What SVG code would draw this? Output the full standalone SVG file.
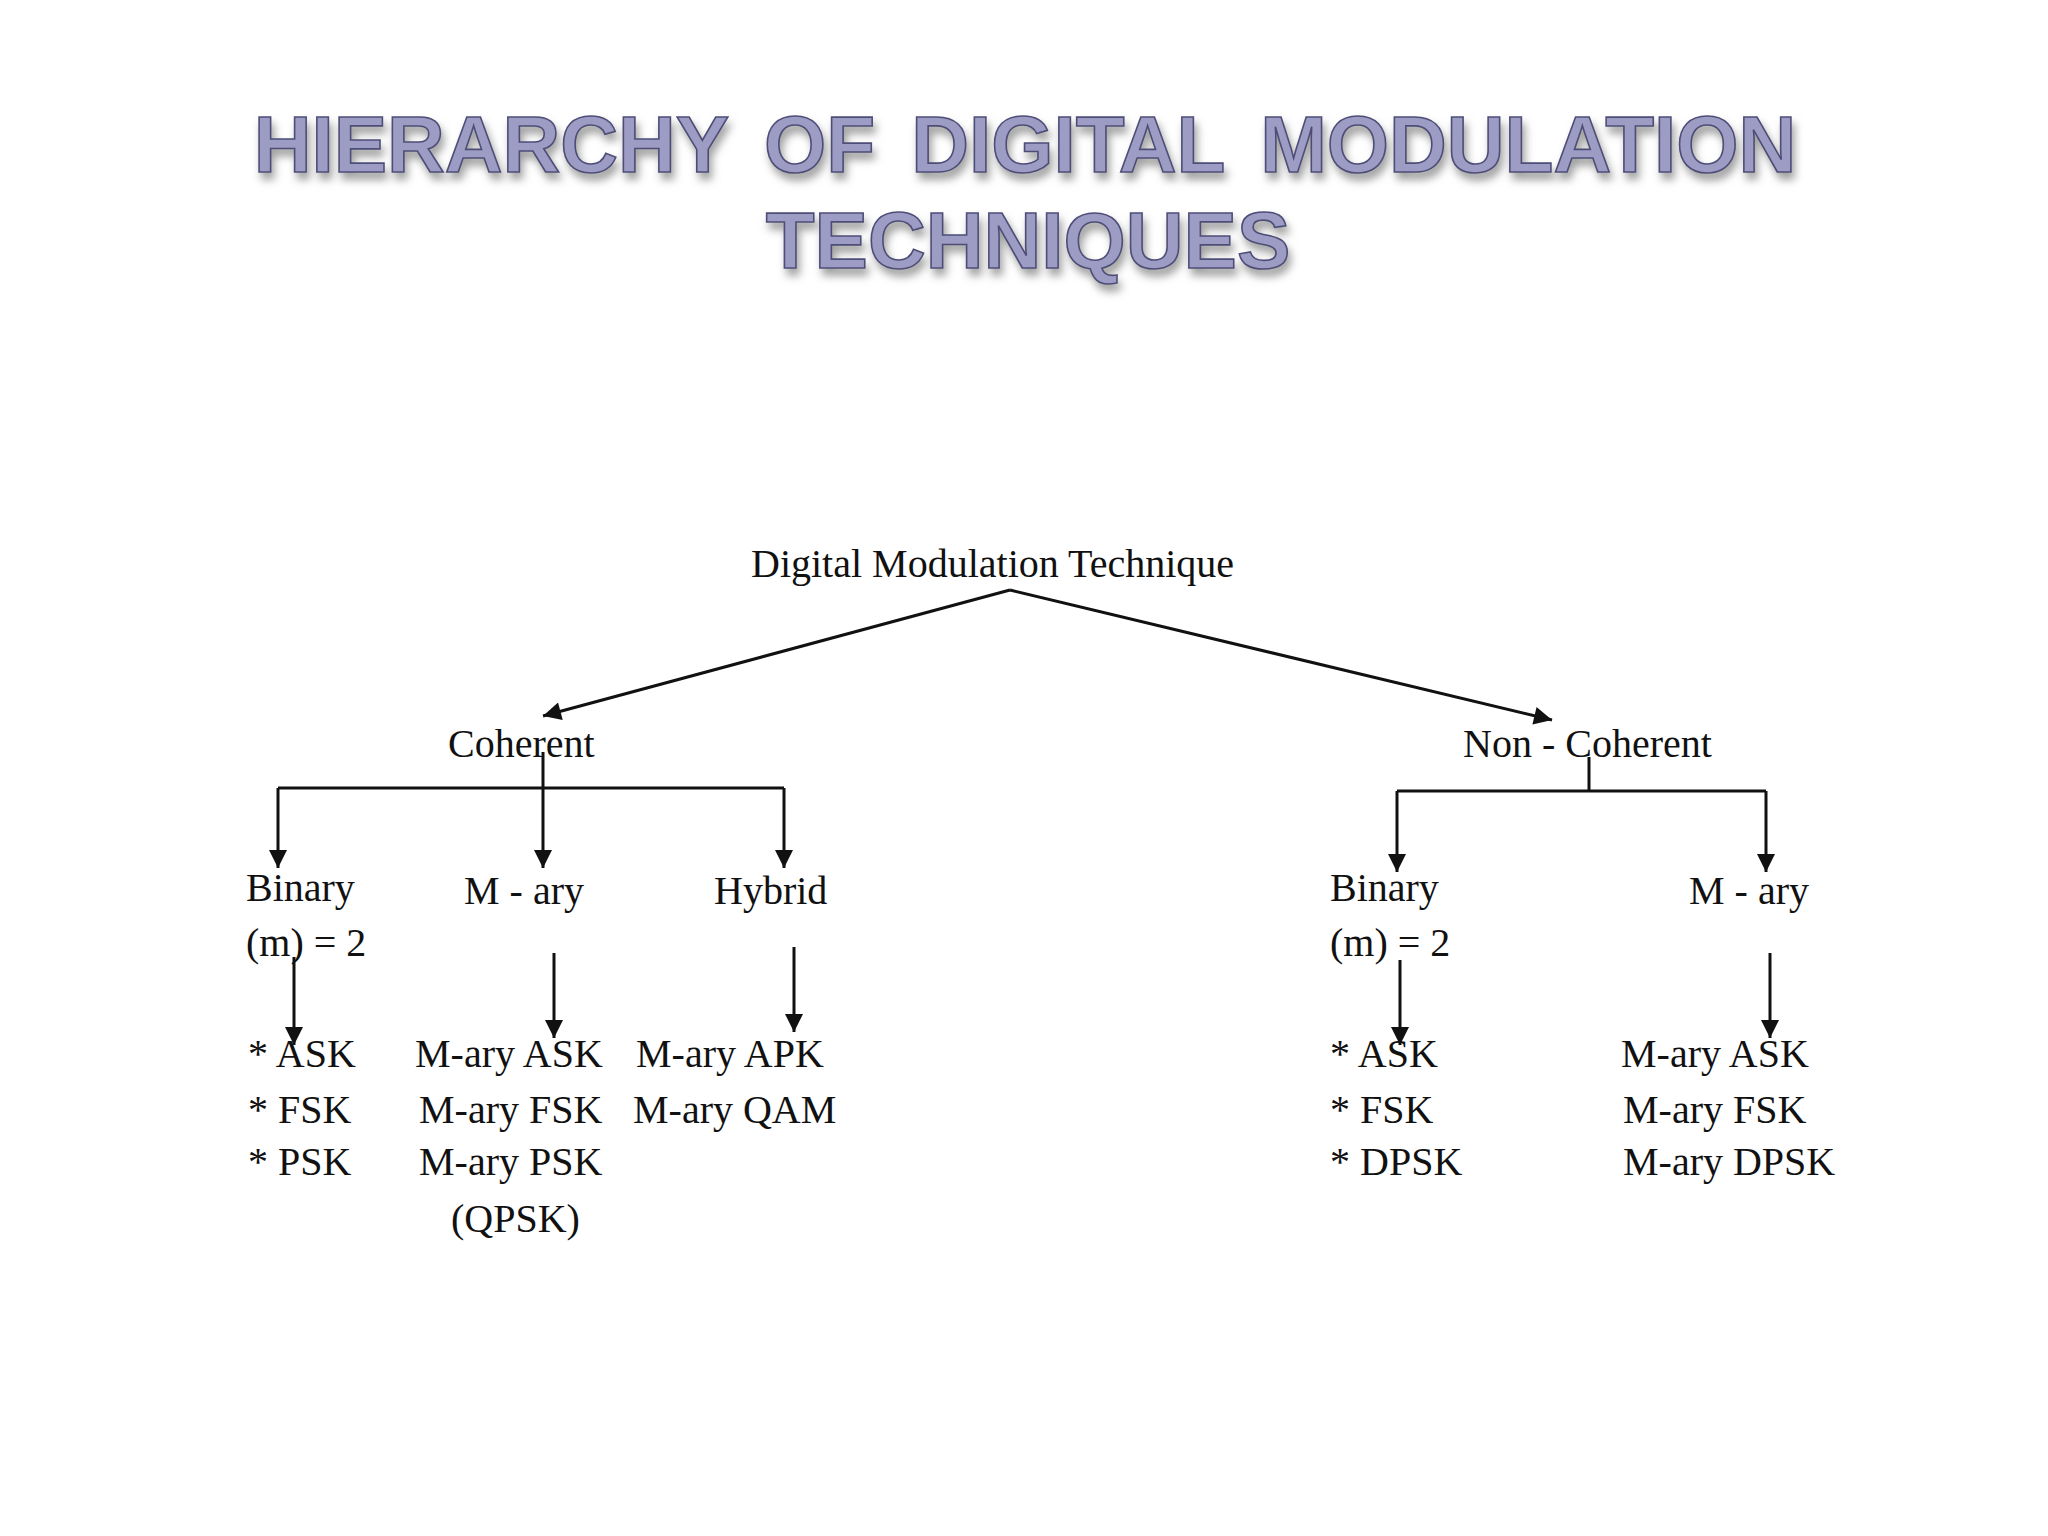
<svg xmlns="http://www.w3.org/2000/svg" width="2048" height="1536" viewBox="0 0 2048 1536">
<defs>
<style>
.title{font-family:"Liberation Sans",Arial,sans-serif;font-weight:bold;font-size:80px;fill:#9c9cc4;stroke:#4e4e78;stroke-width:1.6;text-anchor:middle;}
.t{font-family:"Liberation Serif","Times New Roman",serif;font-size:40px;fill:#111;}
.c{text-anchor:middle;}
.ln{stroke:#111;stroke-width:3;fill:none;}
.ar{stroke:#111;stroke-width:3;fill:none;marker-end:url(#ah);}
</style>
<marker id="ah" viewBox="0 0 10 10" refX="10" refY="5" markerWidth="7" markerHeight="6" markerUnits="strokeWidth" orient="auto">
<path d="M0,0 L10,5 L0,10 z" fill="#111"/>
</marker>
<filter id="sh" x="-5%" y="-20%" width="110%" height="160%">
<feDropShadow dx="3" dy="7" stdDeviation="4" flood-color="#777" flood-opacity="0.7"/>
</filter>
</defs>
<rect width="2048" height="1536" fill="#ffffff"/>
<g id="title" filter="url(#sh)">
<text class="title" x="1025" y="172" word-spacing="14">HIERARCHY OF DIGITAL MODULATION</text>
<text class="title" x="1028" y="268">TECHNIQUES</text>
</g>
<g id="connectors">
<polyline class="ar" points="1010,590 543,716"/>
<polyline class="ar" points="1010,590 1552,720"/>
<line class="ln" x1="543" y1="752" x2="543" y2="788"/>
<line class="ln" x1="278" y1="788" x2="784" y2="788"/>
<line class="ar" x1="278" y1="788" x2="278" y2="868"/>
<line class="ar" x1="543" y1="788" x2="543" y2="868"/>
<line class="ar" x1="784" y1="788" x2="784" y2="868"/>
<line class="ln" x1="1589" y1="757" x2="1589" y2="791"/>
<line class="ln" x1="1397" y1="791" x2="1766" y2="791"/>
<line class="ar" x1="1397" y1="791" x2="1397" y2="872"/>
<line class="ar" x1="1766" y1="791" x2="1766" y2="872"/>
<line class="ar" x1="294" y1="957" x2="294" y2="1045"/>
<line class="ar" x1="554" y1="953" x2="554" y2="1038"/>
<line class="ar" x1="794" y1="947" x2="794" y2="1032"/>
<line class="ar" x1="1400" y1="960" x2="1400" y2="1045"/>
<line class="ar" x1="1770" y1="953" x2="1770" y2="1038"/>
</g>
<g id="root"><text class="t" x="751" y="577">Digital Modulation Technique</text></g>
<g id="coherent"><text class="t" x="448" y="757">Coherent</text></g>
<g id="noncoherent"><text class="t" x="1463" y="757">Non - Coherent</text></g>
<g id="coh-binary"><text class="t" x="246" y="901">Binary</text><text class="t" x="246" y="956">(m) = 2</text></g>
<g id="coh-mary"><text class="t" x="464" y="904">M - ary</text></g>
<g id="coh-hybrid"><text class="t" x="714" y="904">Hybrid</text></g>
<g id="nc-binary"><text class="t" x="1330" y="901">Binary</text><text class="t" x="1330" y="956">(m) = 2</text></g>
<g id="nc-mary"><text class="t" x="1689" y="904">M - ary</text></g>
<g id="coh-binary-list">
<text class="t" x="248" y="1067">* ASK</text>
<text class="t" x="248" y="1123">* FSK</text>
<text class="t" x="248" y="1175">* PSK</text>
</g>
<g id="coh-mary-list">
<text class="t" x="415" y="1067">M-ary ASK</text>
<text class="t" x="419" y="1123">M-ary FSK</text>
<text class="t" x="419" y="1175">M-ary PSK</text>
<text class="t" x="451" y="1232">(QPSK)</text>
</g>
<g id="coh-hybrid-list">
<text class="t" x="636" y="1067">M-ary APK</text>
<text class="t" x="633" y="1123">M-ary QAM</text>
</g>
<g id="nc-binary-list">
<text class="t" x="1330" y="1067">* ASK</text>
<text class="t" x="1330" y="1123">* FSK</text>
<text class="t" x="1330" y="1175">* DPSK</text>
</g>
<g id="nc-mary-list">
<text class="t" x="1621" y="1067">M-ary ASK</text>
<text class="t" x="1623" y="1123">M-ary FSK</text>
<text class="t" x="1623" y="1175">M-ary DPSK</text>
</g>
</svg>
